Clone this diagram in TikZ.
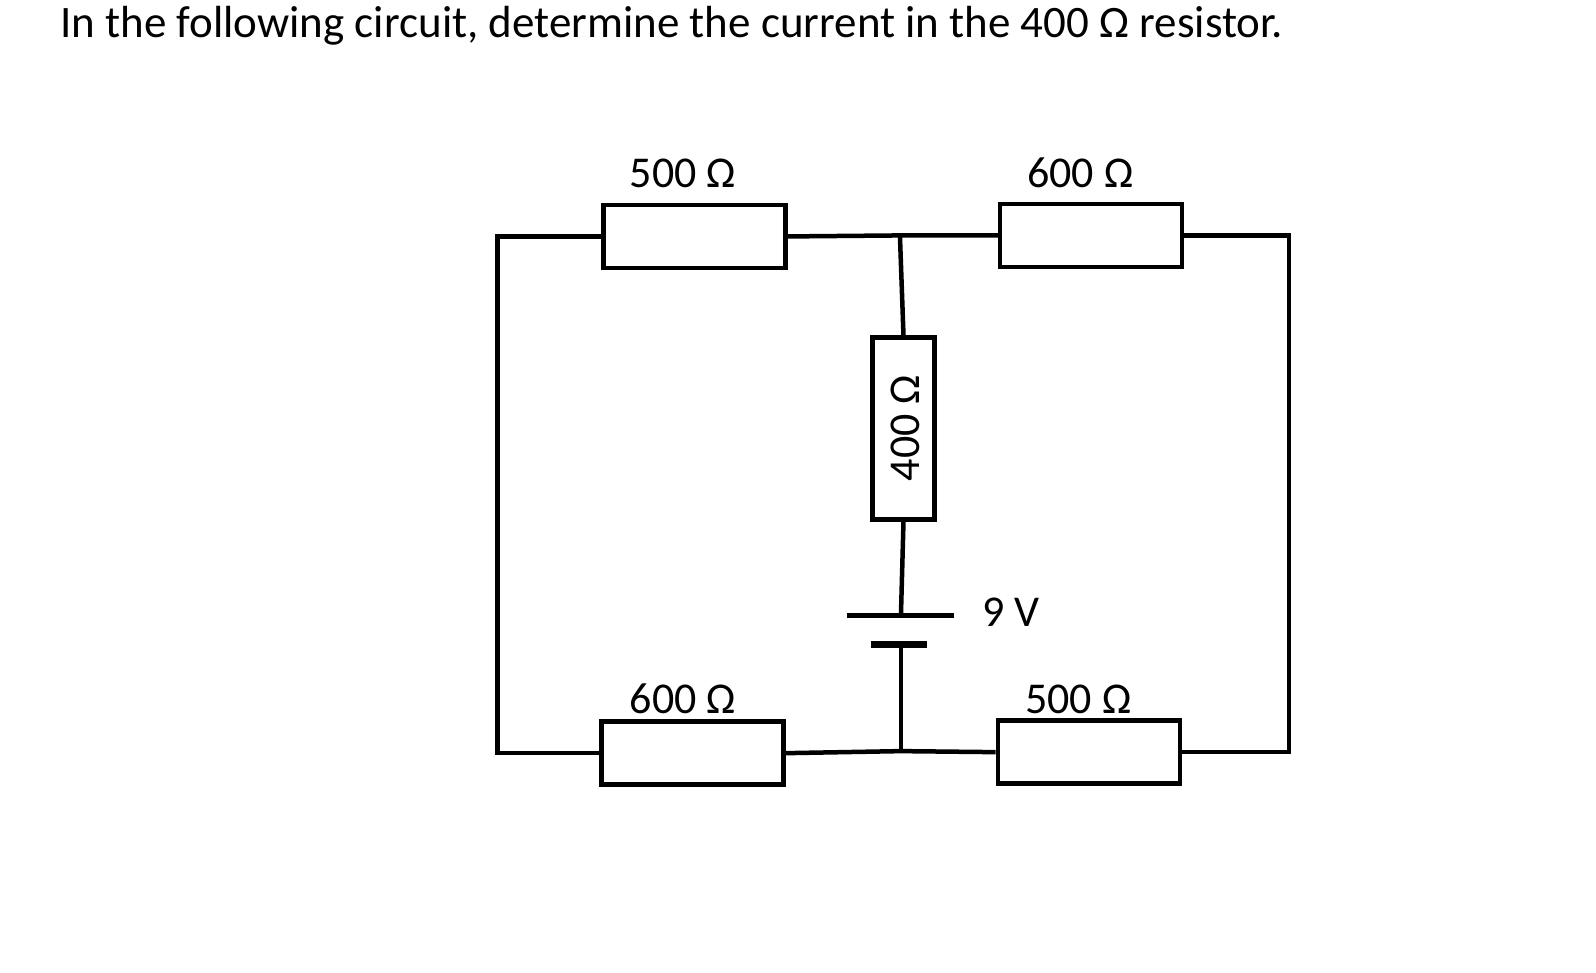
\documentclass[tikz,border=0pt]{standalone}
\usepackage{fontspec}
\setmainfont{Carlito}
\begin{document}
\begin{tikzpicture}[x=1.019pt,y=-1.019pt,line width=4.5pt,
  res/.style={draw,line width=4.5pt,minimum width=182pt,minimum height=63pt,inner sep=0pt},
  lab/.style={font=\fontsize{44}{50}\selectfont,inner sep=0pt}]
\useasboundingbox (0,0) rectangle (1566,954);
\node[anchor=base west,inner sep=0pt,font=\fontsize{45}{52}\selectfont] (title) at (57,37) {In the following circuit, determine the current in the 400 Ω resistor.};
\node[res] (r1) at (681.5,232) {};
\node[res] (r2) at (1070.5,231) {};
\node[res] (r3) at (679.5,739) {};
\node[res] (r4) at (1068.5,738) {};
\node[res,minimum width=62pt,minimum height=182pt] (r5) at (886.5,420.5) {};
\node[lab] (l1) at (670,170) {500 Ω};
\node[lab] (l2) at (1060,170) {600 Ω};
\node[lab] (l3) at (670,686) {600 Ω};
\node[lab] (l4) at (1058,686) {500 Ω};
\node[lab,rotate=90] (l5) at (888,420) {400 Ω};
\node[lab] (l6) at (992,601) {9 V};
\coordinate (jt) at (883,231);
\coordinate (jb) at (884,737);
\coordinate (bp) at (884,604);
\coordinate (bn) at (884,632);
\draw (r1.west) -- (488,232) -- (488,739) -- (r3.west);
\draw (r1.east) -- (jt) -- (r2.west);
\draw (r2.east) -- (1265,231) -- (1265,738) -- (r4.east);
\draw (r3.east) -- (jb) -- (r4.west);
\draw (jt) -- (r5.north);
\draw (r5.south) -- (bp);
\draw (831,604) -- (936,604);
\draw[line width=7pt] (855,632) -- (910,632);
\draw (bn) -- (jb);
\end{tikzpicture}
\end{document}
